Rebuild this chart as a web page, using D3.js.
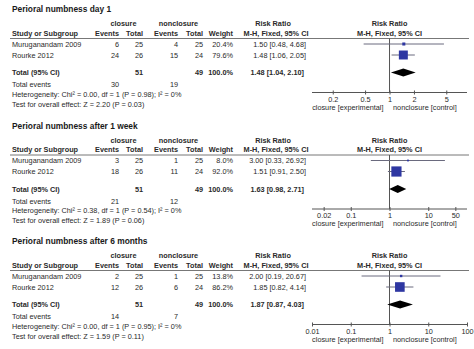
<!DOCTYPE html>
<html>
<head>
<meta charset="utf-8">
<script src="https://cdn.jsdelivr.net/npm/d3@7"></script>
<style>
  body { margin: 0; background: #fff; }
  svg { display: block; font-family: "Liberation Sans", Arial, sans-serif; }
  .txt { font-size: 7.3px; fill: #2a2a2a; }
  .b { font-weight: bold; }
  .title { font-size: 8.4px; font-weight: bold; fill: #1a1a1a; }
</style>
</head>
<body>
<div id="chart"></div>
<script>
// panel data
const titles = ["Perioral numbness day 1", "Perioral numbness after 1 week", "Perioral numbness after 6 months"];
const studies = ["Muruganandam 2009", "Rourke 2012"];
const closureEvents = [[6, 24], [3, 18], [2, 12]];
const closureTotal = [25, 26];
const nonclosureEvents = [[4, 15], [1, 11], [1, 6]];
const nonclosureTotal = [25, 24];
const weights = [[20.4, 79.6], [8.0, 92.0], [13.8, 86.2]];
const rr = [[1.50, 1.48], [3.00, 1.51], [2.00, 1.85]];
const rrLow = [[0.48, 1.06], [0.33, 0.91], [0.19, 0.82]];
const rrHigh = [[4.68, 2.05], [26.92, 2.50], [20.67, 4.14]];
const totalRR = [1.48, 1.63, 1.87];
const totalLow = [1.04, 0.98, 0.87];
const totalHigh = [2.10, 2.71, 4.03];
const totalClosureEvents = [30, 21, 14];
const totalNonclosureEvents = [19, 12, 7];
const chi2 = ["0.00", "0.38", "0.00"];
const hetP = ["0.98", "0.54", "0.95"];
const zVal = ["2.20", "1.89", "1.59"];
const zP = ["0.03", "0.06", "0.11"];
const tickVals = [[0.2, 0.5, 1, 2, 5], [0.02, 0.1, 1, 10, 50], [0.01, 0.1, 1, 10, 100]];
const axisDomains = [[0.111, 9], [0.01, 100], [0.01, 100]];

const W = 474, H = 349;
const panelY = [9, 125.5, 241];
// column anchors
const col = { study: 12, cE: 119, cT: 143, nE: 178, nT: 203, w: 233, rr: 306 };
// row offsets from the panel title
const row = { group: 14.5, head: 24, rule: 29.5, s1: 35, s2: 46, total: 63.5, events: 75.5, het: 85, test: 95, axis: 83.5, tick: 90, axLab: 98 };

const svg = d3.select("#chart").append("svg")
  .attr("width", W)
  .attr("height", H);

svg.append("rect").attr("width", W).attr("height", H).attr("fill", "#fff");

const fmt2 = d3.format(".2f");
const fmt1 = d3.format(".1f");
const boxSize = d3.scaleLinear().domain([0, 100]).range([1, 11]);

function text(g, x, y, s, anchor, cls) {
  return g.append("text")
    .attr("class", "txt " + (cls || ""))
    .attr("x", x)
    .attr("y", y)
    .attr("dy", "0.36em")
    .attr("text-anchor", anchor || "start")
    .text(s);
}

titles.forEach((title, p) => {
  const g = svg.append("g").attr("transform", "translate(0," + panelY[p] + ")");
  const x = d3.scaleLog().domain(axisDomains[p]).range([312, 467]);

  g.append("text").attr("class", "title").attr("x", 12).attr("y", 0).attr("dy", "0.36em").text(title);

  // headers
  text(g, 123.5, row.group, "closure", "middle", "b");
  text(g, 178.5, row.group, "nonclosure", "middle", "b");
  text(g, 273, row.group, "Risk Ratio", "middle", "b");
  text(g, x(1), row.group, "Risk Ratio", "middle", "b");
  text(g, col.study, row.head, "Study or Subgroup", "start", "b");
  text(g, col.cE, row.head, "Events", "end", "b");
  text(g, col.cT, row.head, "Total", "end", "b");
  text(g, col.nE, row.head, "Events", "end", "b");
  text(g, col.nT, row.head, "Total", "end", "b");
  text(g, col.w, row.head, "Weight", "end", "b");
  text(g, 276, row.head, "M-H, Fixed, 95% CI", "middle", "b");
  text(g, x(1), row.head, "M-H, Fixed, 95% CI", "middle", "b");

  g.append("line")
    .attr("x1", 10).attr("x2", 469)
    .attr("y1", row.rule).attr("y2", row.rule)
    .attr("stroke", "#777").attr("stroke-width", 1);

  // null line
  g.append("line")
    .attr("x1", x(1)).attr("x2", x(1))
    .attr("y1", row.rule).attr("y2", row.axis)
    .attr("stroke", "#555").attr("stroke-width", 1);

  // study rows
  const rowsY = [row.s1, row.s2];
  studies.forEach((s, i) => {
    const y = rowsY[i];
    text(g, col.study, y, s);
    text(g, col.cE, y, closureEvents[p][i], "end");
    text(g, col.cT, y, closureTotal[i], "end");
    text(g, col.nE, y, nonclosureEvents[p][i], "end");
    text(g, col.nT, y, nonclosureTotal[i], "end");
    text(g, col.w, y, fmt1(weights[p][i]) + "%", "end");
    text(g, col.rr, y, fmt2(rr[p][i]) + " [" + fmt2(rrLow[p][i]) + ", " + fmt2(rrHigh[p][i]) + "]", "end");

    g.append("line")
      .attr("x1", x(rrLow[p][i])).attr("x2", x(rrHigh[p][i]))
      .attr("y1", y).attr("y2", y)
      .attr("stroke", "#6a6a7e").attr("stroke-width", 1);
    const sz = boxSize(weights[p][i]);
    g.append("rect")
      .attr("x", x(rr[p][i]) - sz / 2).attr("y", y - sz / 2)
      .attr("width", sz).attr("height", sz)
      .attr("fill", "#2e37a2");
  });

  // total row
  text(g, col.study, row.total, "Total (95% CI)", "start", "b");
  text(g, col.cT, row.total, 51, "end", "b");
  text(g, col.nT, row.total, 49, "end", "b");
  text(g, col.w, row.total, "100.0%", "end", "b");
  text(g, col.rr - 2, row.total, fmt2(totalRR[p]) + " [" + fmt2(totalLow[p]) + ", " + fmt2(totalHigh[p]) + "]", "end", "b");

  const dy = 4;
  g.append("path")
    .attr("d", "M" + x(totalLow[p]) + "," + row.total +
      "L" + x(totalRR[p]) + "," + (row.total - dy) +
      "L" + x(totalHigh[p]) + "," + row.total +
      "L" + x(totalRR[p]) + "," + (row.total + dy) + "Z")
    .attr("fill", "#000");

  text(g, col.study, row.events, "Total events");
  text(g, col.cE, row.events, totalClosureEvents[p], "end");
  text(g, col.nE, row.events, totalNonclosureEvents[p], "end");
  text(g, col.study, row.het, "Heterogeneity: Chi\u00b2 = " + chi2[p] + ", df = 1 (P = " + hetP[p] + "); I\u00b2 = 0%");
  text(g, col.study, row.test, "Test for overall effect: Z = " + zVal[p] + " (P = " + zP[p] + ")");

  // axis
  const ax = g.append("g")
    .attr("transform", "translate(0," + row.axis + ")")
    .call(d3.axisBottom(x).tickValues(tickVals[p]).tickSizeInner(2).tickSizeOuter(0).tickFormat(d => String(d)));
  ax.select(".domain").attr("stroke", "#555").attr("d", "M312,0H467");
  ax.selectAll(".tick line").attr("stroke", "#555").attr("y1", -2).attr("y2", 2);
  ax.selectAll(".tick text")
    .attr("class", "txt")
    .attr("y", row.tick - row.axis)
    .attr("dy", "0.36em")
    .style("font-family", null)
    .attr("font-size", null)
    .attr("font-family", null);
  ax.attr("font-size", null).attr("font-family", null);

  text(g, x(1) - 6, row.axLab, "closure [experimental]", "end");
  text(g, x(1) + 3.5, row.axLab, "nonclosure [control]", "start");
});
</script>
</body>
</html>
